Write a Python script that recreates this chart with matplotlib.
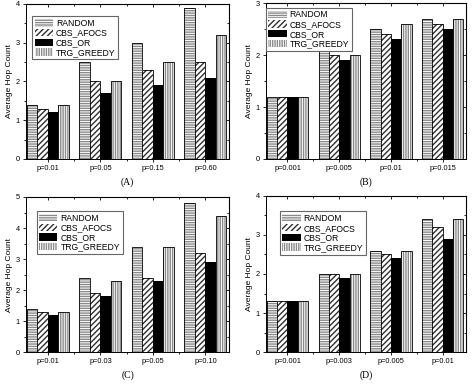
import numpy as np
import matplotlib
matplotlib.use("Agg")
import matplotlib.pyplot as plt
from matplotlib.patches import Patch
from matplotlib.ticker import MultipleLocator, FixedLocator

plt.rcParams['font.family'] = ['Liberation Sans', 'DejaVu Sans']

series = ['RANDOM', 'CBS_AFOCS', 'CBS_OR', 'TRG_GREEDY']

labels_a = ['p=0.01', 'p=0.05', 'p=0.15', 'p=0.60']
random_a = [1.4, 2.5, 3.0, 3.9]
afocs_a = [1.3, 2.0, 2.3, 2.5]
or_a = [1.2, 1.7, 1.9, 2.1]
greedy_a = [1.4, 2.0, 2.5, 3.2]

labels_b = ['p=0.001', 'p=0.005', 'p=0.01', 'p=0.015']
random_b = [1.2, 2.1, 2.5, 2.7]
afocs_b = [1.2, 2.0, 2.4, 2.6]
or_b = [1.2, 1.9, 2.3, 2.5]
greedy_b = [1.2, 2.0, 2.6, 2.7]

labels_c = ['p=0.01', 'p=0.03', 'p=0.05', 'p=0.10']
random_c = [1.4, 2.4, 3.4, 4.8]
afocs_c = [1.3, 1.9, 2.4, 3.2]
or_c = [1.2, 1.8, 2.3, 2.9]
greedy_c = [1.3, 2.3, 3.4, 4.4]

labels_d = ['p=0.001', 'p=0.003', 'p=0.005', 'p=0.01']
random_d = [1.3, 2.0, 2.6, 3.4]
afocs_d = [1.3, 2.0, 2.5, 3.2]
or_d = [1.3, 1.9, 2.4, 2.9]
greedy_d = [1.3, 2.0, 2.6, 3.4]

# hatch, hatch colour, face colour for each series
styles = [('-------', '#8a8a8a', 'white'),
          ('//////', '#303030', 'white'),
          ('', 'black', 'black'),
          ('|||||||', '#8a8a8a', 'white')]

panels = [
    ('(A)', labels_a, [random_a, afocs_a, or_a, greedy_a], 4, [0.055, 0.586, 0.428, 0.404], (0.03, 0.92)),
    ('(B)', labels_b, [random_b, afocs_b, or_b, greedy_b], 3, [0.561, 0.586, 0.422, 0.406], (0.0, 0.97)),
    ('(C)', labels_c, [random_c, afocs_c, or_c, greedy_c], 5, [0.055, 0.083, 0.428, 0.404], (0.053, 0.91)),
    ('(D)', labels_d, [random_d, afocs_d, or_d, greedy_d], 4, [0.561, 0.083, 0.422, 0.407], (0.07, 0.90)),
]

fig = plt.figure(figsize=(4.74, 3.84), dpi=100)
w = 0.2
x = np.arange(4)

for name, labels, data, ymax, pos, leg_at in panels:
    ax = fig.add_axes(pos)
    for k, vals in enumerate(data):
        hatch, hc, fc = styles[k]
        xs = x + (k - 1.5) * w
        ax.bar(xs, vals, width=w, color=fc, edgecolor=hc, hatch=hatch, linewidth=0)
        ax.bar(xs, vals, width=w, fill=False, edgecolor='black', linewidth=0.6)
    ax.set_xlim(-0.417, 3.448)
    ax.set_ylim(0, ymax)
    ax.set_xticks(x)
    ax.set_xticklabels(labels, fontsize=5.3)
    ax.xaxis.set_minor_locator(FixedLocator([0.5, 1.5, 2.5]))
    ax.yaxis.set_major_locator(MultipleLocator(1))
    ax.yaxis.set_minor_locator(MultipleLocator(0.5))
    ax.tick_params(axis='y', labelsize=5.3, pad=2)
    ax.tick_params(axis='x', pad=2)
    ax.tick_params(which='both', bottom=True, left=True, top=False, right=False,
                   direction='out', length=2.5, width=0.6)
    ax.tick_params(which='minor', length=1.5)
    # inward mirrored ticks on top and right
    sx = ax.secondary_xaxis('top')
    sx.set_xticks(x)
    sx.set_xticklabels([])
    sx.xaxis.set_minor_locator(FixedLocator([0.5, 1.5, 2.5]))
    sx.tick_params(which='both', direction='in', length=2.5, width=0.6)
    sx.tick_params(which='minor', length=1.5)
    sy = ax.secondary_yaxis('right')
    sy.yaxis.set_major_locator(MultipleLocator(1))
    sy.yaxis.set_minor_locator(MultipleLocator(0.5))
    sy.set_yticklabels([])
    sy.tick_params(which='both', direction='in', length=2.5, width=0.6)
    sy.tick_params(which='minor', length=1.5)
    for s in ax.spines.values():
        s.set_linewidth(0.7)
    ax.set_ylabel('Average Hop Count', fontsize=6, labelpad=2)
    handles = [Patch(facecolor=st[2], edgecolor=st[1], hatch=st[0], linewidth=0) for st in styles]
    leg = ax.legend(handles, series, loc='upper left', bbox_to_anchor=leg_at, fontsize=6.2,
                    frameon=True, fancybox=False, edgecolor='#666666', framealpha=1,
                    handlelength=2.1, handleheight=0.95, handletextpad=0.35, borderpad=0.3,
                    labelspacing=0.08, borderaxespad=0.0)
    leg.get_frame().set_linewidth(0.8)
    cx = pos[0] + pos[2] / 2
    fig.text(cx, pos[1] - 0.06, name, ha='center', va='center', fontsize=7,
             family='Liberation Serif')

fig.savefig('out.png', dpi=100)
